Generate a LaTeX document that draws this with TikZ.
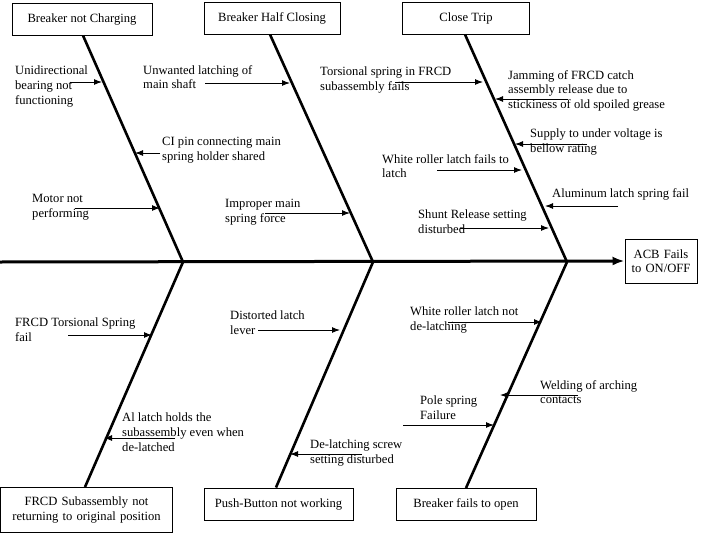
\documentclass[tikz,border=0pt]{standalone}
\usepackage{fontspec}
\setmainfont{Liberation Serif}
\usetikzlibrary{arrows.meta}
\begin{document}
\begin{tikzpicture}[x=1pt,y=-1pt,
  box/.style={draw,line width=1pt,minimum height=32pt,align=center,inner sep=2pt,font=\fontsize{12.6}{14.5}\selectfont},
  lbl/.style={anchor=north west,align=left,inner sep=0pt,font=\fontsize{12.6}{14.8}\selectfont},
  bone/.style={line width=2.6pt},
  arr/.style={line width=1pt,-{Latex[length=8pt,width=6pt]}}]
\useasboundingbox (0,0) rectangle (710,533);
% spine
\coordinate (s0) at (0,262);
\node[box,minimum width=72pt,minimum height=44pt,text width=68pt] (acb) at (661,261) {ACB Fails\\to ON/OFF};
\draw[line width=3pt,-{Latex[length=12pt,width=9pt]}] (s0) -- (acb.west);
% top boxes
\node[box,minimum width=140pt] (t1) at (82,19) {Breaker not Charging};
\node[box,minimum width=136pt] (t2) at (272,18) {Breaker Half Closing};
\node[box,minimum width=127pt] (t3) at (466,18) {Close Trip};
\coordinate (j1) at (183,262);
\coordinate (j2) at (373,262);
\coordinate (j3) at (567,262);
\draw[bone] (t1.south -| 83,0) -- (j1);
\draw[bone] (t2.south -| 270,0) -- (j2);
\draw[bone] (t3.south -| 465,0) -- (j3);
% bottom boxes
\node[box,minimum width=171pt,minimum height=45pt,text width=168pt] (b1) at (86.5,510) {FRCD Subassembly not\\returning to original position};
\node[box,minimum width=149pt] (b2) at (278.5,504) {Push-Button not working};
\node[box,minimum width=140pt] (b3) at (466,504.5) {Breaker fails to open};
\draw[bone] (j1) -- (b1.north -| 85,0);
\draw[bone] (j2) -- (b2.north -| 276,0);
\draw[bone] (j3) -- (b3.north -| 466,0);
% labels top
\node[lbl] (l1) at (15,66) {Unidirectional\\bearing not\\functioning};
\node[lbl] (l2) at (162,137) {CI pin connecting main\\spring holder shared};
\node[lbl] (l3) at (32,194) {Motor not\\performing};
\node[lbl] (l4) at (143,65) {Unwanted latching of\\main shaft};
\node[lbl] (l5) at (225,199) {Improper main\\spring force};
\node[lbl] (l6) at (320,67) {Torsional spring in FRCD\\subassembly fails};
\node[lbl] (l7) at (508,70) {Jamming of FRCD catch\\assembly release due to\\stickiness of old spoiled grease};
\node[lbl] (l8) at (530,129) {Supply to under voltage is\\bellow rating};
\node[lbl] (l9) at (382,154) {White roller latch fails to\\latch};
\node[lbl] (l10) at (552,188) {Aluminum latch spring fail};
\node[lbl] (l11) at (418,210) {Shunt Release setting\\disturbed};
% labels bottom
\node[lbl] (m1) at (15,318) {FRCD Torsional Spring\\fail};
\node[lbl] (m2) at (122,413) {Al latch holds the\\subassembly even when\\de-latched};
\node[lbl] (m3) at (230,311) {Distorted latch\\lever};
\node[lbl] (m4) at (310,440) {De-latching screw\\setting disturbed};
\node[lbl] (m5) at (410,307) {White roller latch not\\de-latching};
\node[lbl] (m6) at (540,380) {Welding of arching\\contacts};
\node[lbl] (m7) at (420,396) {Pole spring\\Failure};
% arrows
\draw[arr] (70,82) -- (102,82);
\draw[arr] (160,153) -- (135,153);
\draw[arr] (75,208) -- (160,208);
\draw[arr] (205,83) -- (290,83);
\draw[arr] (265,213) -- (350,213);
\draw[arr] (395,82) -- (483,82);
\draw[arr] (568,99) -- (495,99);
\draw[arr] (587,144) -- (515,144);
\draw[arr] (437,170) -- (522,170);
\draw[arr] (618,206) -- (545,206);
\draw[arr] (460,228) -- (549,228);
\draw[arr] (68,335) -- (152,335);
\draw[arr] (175,438) -- (104,438);
\draw[arr] (258,330) -- (340,330);
\draw[arr] (362,454) -- (290,454);
\draw[arr] (448,322) -- (542,322);
\draw[arr] (578,395) -- (500,395);
\draw[arr] (403,425) -- (494,425);
\end{tikzpicture}
\end{document}
